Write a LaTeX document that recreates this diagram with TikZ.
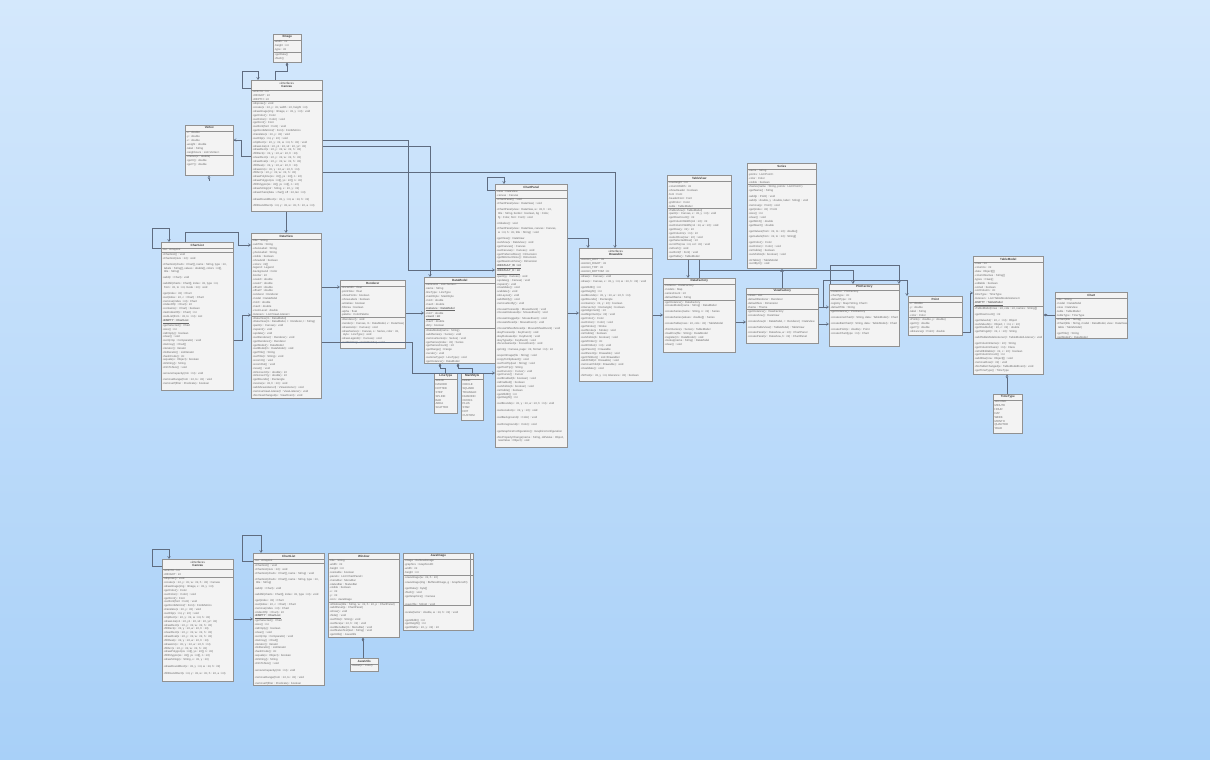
\documentclass[tikz,border=0pt]{standalone}
\usepackage{fontspec}
\setmainfont{Liberation Sans}
\usetikzlibrary{arrows.meta,shadows,calc}
\definecolor{bgtop}{RGB}{212,232,252}
\definecolor{bgbot}{RGB}{168,208,248}
\definecolor{boxfill}{RGB}{243,243,243}
\definecolor{boxline}{RGB}{145,145,145}
\definecolor{txtc}{RGB}{105,105,105}
\definecolor{ttlc}{RGB}{60,60,60}
\definecolor{linec}{RGB}{95,108,128}
\tikzset{
 cls/.style={draw=boxline, fill=boxfill, line width=0.6pt, inner sep=0pt, anchor=north west,
   drop shadow={shadow xshift=0.9pt, shadow yshift=-0.9pt, opacity=0.3}},
 ttl/.style={font=\fontsize{3}{3.5}\selectfont\bfseries, inner sep=0.8pt, align=center, text=ttlc},
 txt/.style={font=\fontsize{2.8}{3.85}\selectfont, inner xsep=1.3pt, inner ysep=0.8pt, align=left, text=txtc},
 sep/.style={draw=boxline, line width=0.45pt},
 conn/.style={draw=linec, line width=0.55pt},
 arr/.style={-{Straight Barb[length=2.2pt,width=2.6pt]}},
 dia/.style={{Diamond[length=4pt,width=2.6pt,fill=linec]}-},
 odia/.style={{Diamond[length=4pt,width=2.6pt,open]}-},
 inh/.style={-{Triangle[open,length=3.2pt,width=3.2pt]}},
}
\newcommand\klass[7]{%
 \node[cls, minimum width=#3pt, minimum height=#4pt] (#1) at (#2) {};
 \node[ttl, minimum height=#5pt, anchor=north] (#1-t) at (#1.north) {#6};
 \draw[sep] (#1-t.south -| #1.west) -- (#1-t.south -| #1.east);
 \node[txt, anchor=north west] (#1-a) at (#1-t.south -| #1.west) {#7};
}
\newcommand\meth[2]{%
 \draw[sep] (#1-a.south -| #1.west) -- (#1-a.south -| #1.east);
 \node[txt, anchor=north west] (#1-m) at (#1-a.south -| #1.west) {#2};
}
\begin{document}
\begin{tikzpicture}[x=1pt,y=-1pt]
\shade[top color=bgtop, bottom color=bgbot] (0,0) rectangle (1210,760);
\useasboundingbox (0,0) rectangle (1210,760);

% ---------------- IImage
\klass{iimage}{273,34}{28}{28}{5.5}{IImage}{-width : int\\-height : int\\-type : int}
\meth{iimage}{+getData()\\+flush()}

% ---------------- Canvas
\klass{canvas}{251,80}{71}{131}{9.5}{\textmd{«interface»}\\Canvas}{+WIDTH : int\\+HEIGHT : int\\+DEPTH : int}
\meth{canvas}{+dispose() : void\\
+create(x : int, y : int, width : int, height : int)\\
+drawImage(img : IImage, x : int, y : int) : void\\
+getColor() : Color\\
+setColor(c : Color) : void\\
+getFont() : Font\\
+setFont(font : Font) : void\\
+getFontMetrics(f : Font) : FontMetrics\\
+translate(x : int, y : int) : void\\
+setClip(x : int, y : int) : void\\
+clipRect(x : int, y : int, w : int, h : int) : void\\
+drawLine(x1 : int, y1 : int, x2 : int, y2 : int)\\
+drawRect(x : int, y : int, w : int, h : int)\\
+fillRect(x : int, y : int, w : int, h : int)\\
+clearRect(x : int, y : int, w : int, h : int)\\
+drawOval(x : int, y : int, w : int, h : int)\\
+fillOval(x : int, y : int, w : int, h : int)\\
+drawArc(x : int, y : int, w : int, h : int)\\
+fillArc(x : int, y : int, w : int, h : int)\\
+drawPolyline(xs : int[], ys : int[], n : int)\\
+drawPolygon(xs : int[], ys : int[], n : int)\\
+fillPolygon(xs : int[], ys : int[], n : int)\\
+drawString(str : String, x : int, y : int)\\
+drawChars(data : char[], off : int, len : int)\\[3pt]
+drawRoundRect(x : int, y : int, w : int, h : int)\\[3pt]
+fillRoundRect(x : int, y : int, w : int, h : int, a : int)}

% ---------------- Vertex
\klass{vertex}{185,125}{48}{50}{5.5}{Vertex}{-x : double\\-y : double\\-z : double\\-weight : double\\-label : String\\-neighbours : List<Vertex>}
\meth{vertex}{+Vertex(x : double)\\+getX() : double\\+getY() : double}

% ---------------- ChartList
\klass{chartlist}{161,242}{72}{148}{5.5}{ChartList}{-list : ArrayList}
\meth{chartlist}{+ChartList() : void\\
+ChartList(size : int) : void\\[2pt]
+ChartList(charts : Chart[], name : String, type : int,\\
\ \ labels : String[], values : double[], colors : int[],\\
\ \ title : String)\\[2pt]
+add(c : Chart) : void\\[2pt]
+addAll(charts : Chart[], index : int, type : int,\\
\ \ from : int, to : int, mode : int) : void\\[2pt]
+get(index : int) : Chart\\
+set(index : int, c : Chart) : Chart\\
+remove(index : int) : Chart\\
+indexOf(c : Chart) : int\\
+contains(c : Chart) : boolean\\
+lastIndexOf(c : Chart) : int\\
+subList(from : int, to : int) : List\\
\textbf{\underline{+EMPTY : ChartList}}\\
+getSelected() : Chart\\
+size() : int\\
+isEmpty() : boolean\\
+clear() : void\\
+sort(cmp : Comparator) : void\\
+toArray() : Chart[]\\
+iterator() : Iterator\\
+listIterator() : ListIterator\\
+hashCode() : int\\
+equals(o : Object) : boolean\\
+toString() : String\\
+trimToSize() : void\\[2pt]
+ensureCapacity(min : int) : void\\[2pt]
+removeRange(from : int, to : int) : void\\
+removeIf(filter : Predicate) : boolean}

% ---------------- DataView
\klass{dataview}{251,233}{70}{165}{5.5}{DataView}{-title : String\\-subTitle : String\\-xAxisLabel : String\\-yAxisLabel : String\\-visible : boolean\\-showGrid : boolean\\-colors : int[]\\-legend : Legend\\-background : Color\\-border : int\\-scaleX : double\\-scaleY : double\\-offsetX : double\\-offsetY : double\\-renderer : Renderer\\-model : DataModel\\-minX : double\\-maxX : double\\-zoomLevel : double\\-listeners : List<ViewListener>}
\meth{dataview}{+DataView(m : DataModel)\\
+DataView(m : DataModel, r : Renderer, t : String)\\
+paint(c : Canvas) : void\\
+repaint() : void\\
+update() : void\\
+setRenderer(r : Renderer) : void\\
+getRenderer() : Renderer\\
+getModel() : DataModel\\
+setModel(m : DataModel) : void\\
+getTitle() : String\\
+setTitle(t : String) : void\\
+zoomIn() : void\\
+zoomOut() : void\\
+reset() : void\\
+toScreenX(x : double) : int\\
+toScreenY(y : double) : int\\
+getBounds() : Rectangle\\
+resize(w : int, h : int) : void\\
+addViewListener(l : ViewListener) : void\\
+removeViewListener(l : ViewListener) : void\\
+fireViewChanged(e : ViewEvent) : void}

% ---------------- Renderer
\klass{renderer}{340,280}{65}{68}{5.5}{Renderer}{-lineWidth : float\\-pointSize : float\\-showPoints : boolean\\-showLabels : boolean\\-antialias : boolean\\-fillArea : boolean\\-alpha : float\\-palette : ColorPalette}
\meth{renderer}{+Renderer() : void\\
+render(c : Canvas, m : DataModel, v : DataView)\\
+drawAxis(c : Canvas) : void\\
+drawSeries(c : Canvas, s : Series, color : int,\\
\ \ style : LineType) : void\\
+drawLegend(c : Canvas) : void\\
+setPalette(p : ColorPalette) : void}

% ---------------- ChartModel
\klass{chartmodel}{424,277}{71}{86}{5.5}{DataModel}{-seriesList : List<Series>\\-name : String\\-lineType : LineType\\-markStyle : MarkStyle\\-minX : double\\-maxX : double\\\textbf{\underline{-instance : DataModel}}\\-minY : double\\\textbf{\underline{-count : int}}\\-maxY : double\\-dirty : boolean}
\meth{chartmodel}{+DataModel(name : String)\\
+addSeries(s : Series) : void\\
+removeSeries(s : Series) : void\\
+getSeries(index : int) : Series\\
+getSeriesCount() : int\\
+getRange() : Range\\
+recalc() : void\\
+setLineType(t : LineType) : void\\
+getInstance() : DataModel}

% ---------------- enums
\klass{linetype}{434,373}{23}{40}{5.5}{LineType}{SOLID\\DASHED\\DOTTED\\STEP\\SPLINE\\BAR\\AREA\\SCATTER}
\klass{markstyle}{461,373}{22}{47}{5.5}{MarkStyle}{NONE\\CIRCLE\\SQUARE\\TRIANGLE\\DIAMOND\\CROSS\\PLUS\\STAR\\DOT\\CUSTOM}

% ---------------- ChartPanel
\klass{chartpanel}{495,184}{72}{263}{5.5}{ChartPanel}{-view : DataView\\-canvas : Canvas}
\meth{chartpanel}{+ChartPanel() : void\\
+ChartPanel(view : DataView) : void\\[2pt]
+ChartPanel(view : DataView, w : int, h : int,\\
\ \ title : String, border : boolean, bg : Color,\\
\ \ fg : Color, font : Font) : void\\[2pt]
+initialize() : void\\[2pt]
+ChartPanel(view : DataView, canvas : Canvas,\\
\ \ w : int, h : int, title : String) : void\\[2pt]
+getView() : DataView\\
+setView(v : DataView) : void\\
+getCanvas() : Canvas\\
+setCanvas(c : Canvas) : void\\
+getPreferredSize() : Dimension\\
+getMinimumSize() : Dimension\\
+getMaximumSize() : Dimension\\
\textbf{\underline{+DEFAULT\_W : int}}\\
\textbf{\underline{+DEFAULT\_H : int}}\\
+paint(g : Canvas) : void\\
+update(g : Canvas) : void\\
+repaint() : void\\
+invalidate() : void\\
+validate() : void\\
+doLayout() : void\\
+addNotify() : void\\
+removeNotify() : void\\[2pt]
+mousePressed(e : MouseEvent) : void\\
+mouseReleased(e : MouseEvent) : void\\[2pt]
+mouseDragged(e : MouseEvent) : void\\
+mouseMoved(e : MouseEvent) : void\\[2pt]
+mouseWheelMoved(e : MouseWheelEvent) : void\\
+keyPressed(e : KeyEvent) : void\\
+keyReleased(e : KeyEvent) : void\\
+keyTyped(e : KeyEvent) : void\\
+focusGained(e : FocusEvent) : void\\[2pt]
+print(g : Canvas, page : int, format : int) : int\\[2pt]
+exportImage(file : String) : void\\
+copyToClipboard() : void\\
+setToolTip(text : String) : void\\
+getToolTip() : String\\
+setCursor(c : Cursor) : void\\
+getCursor() : Cursor\\
+setEnabled(b : boolean) : void\\
+isEnabled() : boolean\\
+setVisible(b : boolean) : void\\
+isVisible() : boolean\\
+getWidth() : int\\
+getHeight() : int\\[2pt]
+setBounds(x : int, y : int, w : int, h : int) : void\\[3pt]
+setLocation(x : int, y : int) : void\\[3pt]
+setBackground(c : Color) : void\\[3pt]
+setForeground(c : Color) : void\\[3pt]
+getGraphicsConfiguration() : GraphicsConfiguration\\[2pt]
+firePropertyChange(name : String, oldValue : Object,\\
\ \ newValue : Object) : void}

% ---------------- Canvas2
\klass{canvasb}{579,248}{73}{133}{9.5}{\textmd{«interface»}\\Drawable}{+ALIGN\_LEFT : int\\+ALIGN\_RIGHT : int\\+ALIGN\_TOP : int\\+ALIGN\_BOTTOM : int}
\meth{canvasb}{+draw(c : Canvas) : void\\[2pt]
+draw(c : Canvas, x : int, y : int, w : int, h : int) : void\\[2pt]
+getWidth() : int\\
+getHeight() : int\\
+setBounds(x : int, y : int, w : int, h : int)\\
+getBounds() : Rectangle\\
+contains(x : int, y : int) : boolean\\
+intersects(r : Rectangle) : boolean\\
+getAlignment() : int\\
+setAlignment(a : int) : void\\
+getColor() : Color\\
+setColor(c : Color) : void\\
+getStroke() : Stroke\\
+setStroke(s : Stroke) : void\\
+isVisible() : boolean\\
+setVisible(b : boolean) : void\\
+getZOrder() : int\\
+setZOrder(z : int) : void\\
+getParent() : Drawable\\
+setParent(p : Drawable) : void\\
+getChildren() : List<Drawable>\\
+addChild(d : Drawable) : void\\
+removeChild(d : Drawable) : void\\
+invalidate() : void\\[3pt]
+hitTest(x : int, y : int, tolerance : int) : boolean}

% ---------------- TableView
\klass{tableview}{667,175}{64}{84}{5.5}{TableView}{-rowHeight : int\\-columnWidth : int\\-showHeader : boolean\\-font : Font\\-headerFont : Font\\-gridColor : Color\\-table : TableModel}
\meth{tableview}{+TableView(t : TableModel)\\
+paint(c : Canvas, x : int, y : int) : void\\
+getRowCount() : int\\
+getColumnWidth(col : int) : int\\
+setColumnWidth(col : int, w : int) : void\\
+getRow(y : int) : int\\
+getColumn(x : int) : int\\
+selectRow(row : int) : void\\
+getSelectedRow() : int\\
+scrollTo(row : int, col : int) : void\\
+refresh() : void\\
+setFont(f : Font) : void\\
+getTable() : TableModel}

% ---------------- Series
\klass{series}{747,163}{69}{105}{5.5}{Series}{-name : String\\-points : List<Point>\\-color : Color\\-visible : boolean}
\meth{series}{+Series(name : String, points : List<Point>)\\
+getName() : String\\[2pt]
+add(p : Point) : void\\
+add(x : double, y : double, label : String) : void\\[2pt]
+remove(p : Point) : void\\
+get(index : int) : Point\\
+size() : int\\
+clear() : void\\
+getMinX() : double\\
+getMaxX() : double\\[2pt]
+getValues(from : int, to : int) : double[]\\[2pt]
+getLabels(from : int, to : int) : String[]\\[2pt]
+getColor() : Color\\
+setColor(c : Color) : void\\
+isVisible() : boolean\\
+setVisible(b : boolean) : void\\[2pt]
+toTable() : TableModel\\
+sortByX() : void}

% ---------------- DataFactory
\klass{datafactory}{663,278}{72}{74}{5.5}{DataFactory}{-instance : DataFactory\\-models : Map\\-seriesCount : int\\-defaultName : String}
\meth{datafactory}{+getInstance() : DataFactory\\
+createModel(name : String) : DataModel\\[2pt]
+createSeries(name : String, n : int) : Series\\[2pt]
+createSeries(values : double[]) : Series\\[2pt]
+createTable(rows : int, cols : int) : TableModel\\[2pt]
+fromSeries(s : Series) : TableModel\\
+loadCsv(file : String) : DataModel\\
+register(m : DataModel) : void\\
+lookup(name : String) : DataModel\\
+clear() : void}

% ---------------- ViewFactory
\klass{viewfactory}{746,288}{72}{55}{5.5}{ViewFactory}{-views : List\\-defaultRenderer : Renderer\\-defaultSize : Dimension\\-theme : Theme}
\meth{viewfactory}{+getInstance() : ViewFactory\\
+createView() : DataView\\[2pt]
+createView(m : DataModel, r : Renderer) : DataView\\[2pt]
+createTableView(t : TableModel) : TableView\\[2pt]
+createPanel(v : DataView, w : int) : ChartPanel\\
+createPanel(v : DataView, h : int) : ChartPanel}

% ---------------- PlotFactory
\klass{plotfactory}{829,284}{70}{62}{5.5}{PlotFactory}{-instance : PlotFactory\\-chartType : int\\-defaultType : int\\-registry : Map<String, Chart>\\-defaultTitle : String}
\meth{plotfactory}{+getInstance() : PlotFactory\\[2pt]
+createLineChart(t : String, data : TableModel) : Chart\\[2pt]
+createBarChart(t : String, data : TableModel) : Chart\\[2pt]
+createPoint(x : double) : Point\\
+createChart(type : int) : Chart}

% ---------------- Point
\klass{point}{908,296}{54}{39}{5.5}{Point}{-x : double\\-y : double\\-label : String\\-color : Color}
\meth{point}{+Point(x : double, y : double)\\+getX() : double\\+getY() : double\\+distance(p : Point) : double}

% ---------------- TableModel
\klass{tablemodel}{973,256}{70}{118}{5.5}{TableModel}{-rows : int\\-columns : int\\-data : Object[][]\\-columnNames : String[]\\-types : Class[]\\-editable : boolean\\-sorted : boolean\\-sortColumn : int\\-timeType : TimeType\\-listeners : List<TableModelListener>\\\textbf{\underline{-EMPTY : TableModel}}}
\meth{tablemodel}{+TableModel(rows : int, cols : int, names : String[])\\[2pt]
+getRowCount() : int\\[2pt]
+getValueAt(r : int, c : int) : Object\\
+setValueAt(v : Object, r : int, c : int)\\
+getDoubleAt(r : int, c : int) : double\\
+getStringAt(r : int, c : int) : String\\[2pt]
+addTableModelListener(l : TableModelListener) : void\\[2pt]
+getColumnName(c : int) : String\\
+getColumnClass(c : int) : Class\\
+isCellEditable(r : int, c : int) : boolean\\
+getColumnCount() : int\\
+addRow(row : Object[]) : void\\
+removeRow(r : int) : void\\
+fireTableChanged(e : TableModelEvent) : void\\
+getTimeType() : TimeType}

% ---------------- Chart
\klass{chart}{1055,292}{72}{46}{5.5}{Chart}{-title : String\\-model : DataModel\\-view : DataView\\-table : TableModel\\-tableType : TimeType}
\meth{chart}{+Chart(title : String)\\
+Chart(title : String, model : DataModel, view : DataView,\\
\ \ table : TableModel)\\[2pt]
+getTitle() : String\\
+getModel() : DataModel}

% ---------------- TimeType
\klass{timetype}{993,394}{29}{39}{5.5}{TimeType}{SECOND\\MINUTE\\HOUR\\DAY\\WEEK\\MONTH\\QUARTER\\YEAR}

% ---------------- bottom: Canvas3
\klass{canvasc}{162,559}{71}{122}{9.5}{\textmd{«interface»}\\Canvas}{+WIDTH : int\\+HEIGHT : int}
\meth{canvasc}{+dispose() : void\\
+create(x : int, y : int, w : int, h : int) : Canvas\\
+drawImage(img : IImage, x : int, y : int)\\
+getColor() : Color\\
+setColor(c : Color) : void\\
+getFont() : Font\\
+setFont(font : Font) : void\\
+getFontMetrics(f : Font) : FontMetrics\\
+translate(x : int, y : int) : void\\
+setClip(x : int, y : int) : void\\
+clipRect(x : int, y : int, w : int, h : int)\\
+drawLine(x1 : int, y1 : int, x2 : int, y2 : int)\\
+drawRect(x : int, y : int, w : int, h : int)\\
+fillRect(x : int, y : int, w : int, h : int)\\
+clearRect(x : int, y : int, w : int, h : int)\\
+drawOval(x : int, y : int, w : int, h : int)\\
+fillOval(x : int, y : int, w : int, h : int)\\
+drawArc(x : int, y : int, w : int, h : int)\\
+fillArc(x : int, y : int, w : int, h : int)\\
+drawPolygon(xs : int[], ys : int[], n : int)\\
+fillPolygon(xs : int[], ys : int[], n : int)\\
+drawString(s : String, x : int, y : int)\\[3pt]
+drawRoundRect(x : int, y : int, w : int, h : int)\\[3pt]
+fillRoundRect(x : int, y : int, w : int, h : int, a : int)}

% ---------------- bottom: ChartList2
\klass{chartlistb}{253,553}{71}{132}{5.5}{ChartList}{-list : ArrayList}
\meth{chartlistb}{+ChartList() : void\\
+ChartList(size : int) : void\\
+ChartList(charts : Chart[], name : String) : void\\[2pt]
+ChartList(charts : Chart[], name : String, type : int,\\
\ \ title : String)\\[2pt]
+add(c : Chart) : void\\[2pt]
+addAll(charts : Chart[], index : int, type : int) : void\\[2pt]
+get(index : int) : Chart\\
+set(index : int, c : Chart) : Chart\\
+remove(index : int) : Chart\\
+indexOf(c : Chart) : int\\
\textbf{\underline{+EMPTY : ChartList}}\\
+getSelected() : Chart\\
+size() : int\\
+isEmpty() : boolean\\
+clear() : void\\
+sort(cmp : Comparator) : void\\
+toArray() : Chart[]\\
+iterator() : Iterator\\
+listIterator() : ListIterator\\
+hashCode() : int\\
+equals(o : Object) : boolean\\
+toString() : String\\
+trimToSize() : void\\[3pt]
+ensureCapacity(min : int) : void\\[3pt]
+removeRange(from : int, to : int) : void\\[3pt]
+removeIf(filter : Predicate) : boolean}

% ---------------- Window
\klass{window}{328,553}{71}{84}{5.5}{Window}{-title : String\\-width : int\\-height : int\\-resizable : boolean\\-panels : List<ChartPanel>\\-menuBar : MenuBar\\-statusBar : StatusBar\\-visible : boolean\\-x : int\\-y : int\\-icon : JavaImage}
\meth{window}{+Window(title : String, w : int, h : int, p : ChartPanel)\\
+addPanel(p : ChartPanel)\\
+show() : void\\
+hide() : void\\
+setTitle(t : String) : void\\
+setSize(w : int, h : int) : void\\
+setMenuBar(m : MenuBar) : void\\
+setStatusText(text : String) : void\\
+getUtils() : JavaUtils}

% ---------------- JavaImage
\klass{javaimage}{403,553}{70}{77}{5.5}{JavaImage}{-image : BufferedImage\\-graphics : Graphics2D\\-width : int\\-height : int}
\meth{javaimage}{+JavaImage(w : int, h : int)\\[2pt]
+JavaImage(img : BufferedImage, g : Graphics2D)\\[2pt]
+getData() : byte[]\\
+flush() : void\\
+getGraphics() : Canvas\\[4pt]
+save(file : String) : void\\[4pt]
+scale(factor : double, w : int, h : int) : void\\[4pt]
+getWidth() : int\\
+getHeight() : int\\
+getRGB(x : int, y : int) : int}
\draw[sep] (javaimage.north east) ++(-3,0) -- ++(0,52) -- ($(javaimage.north west)+(0,52)$);

% ---------------- JavaUtils
\klass{javautils}{350,658}{28}{13}{5.5}{JavaUtils}{+toAwt(c : Color)}

% ================= connectors
\draw[conn,dia] (287,0 |- iimage.south) -- (287,71) -| (275,0 |- canvas.north);
\draw[conn,arr] (canvas.west |- 0,88) -| (242,71) -| (258,0 |- canvas.north);
\draw[conn,arr] (canvas.west |- 0,156) -| (241,140) -- (vertex.east |- 0,140);
\draw[conn,odia] (209,0 |- vertex.south) -- (209,181);
\draw[conn,arr] (canvas.south -| 286,0) -- (dataview.north -| 286,0);
\draw[conn,arr] (canvas.east |- 0,140) -| (408,270) -- (chartpanel.west |- 0,270);
\draw[conn,arr] (canvas.east |- 0,146) -| (430,0 |- chartmodel.north);
\draw[conn,arr] (canvas.east |- 0,172) -| (615,0 |- canvasb.north);
\draw[conn,arr] (chartlist.east |- 0,340) -| (242,315) -- (dataview.west |- 0,315);
\draw[conn,arr] (chartlist.west |- 0,248) -| (152,228) -| (169,0 |- chartlist.north);
\draw[conn,arr] (chartlist.north -| 185,0) |- (238,232) |- (dataview.west |- 0,245);
\draw[conn,arr] (dataview.east |- 0,287) -- (renderer.west |- 0,287);
\draw[conn,arr] (dataview.east |- 0,342) -| (412,373) -- (chartpanel.west |- 0,373);
\draw[conn,arr] (renderer.east |- 0,313) -- (chartmodel.west |- 0,313);
\draw[conn,dia] (440,0 |- chartmodel.south) |- (445,368) -- (445,0 |- linetype.north);
\draw[conn,dia] (458,0 |- chartmodel.south) |- (472,368) -- (472,0 |- markstyle.north);
\draw[conn,arr] (chartpanel.west |- 0,190) -| (487,177) -| (504,0 |- chartpanel.north);
\draw[conn,arr] (chartpanel.east |- 0,238) -| (588,0 |- canvasb.north);
\draw[conn,arr] (chartpanel.east |- 0,313) -- (canvasb.west |- 0,313);
\draw[conn,arr] (canvasb.east |- 0,315) -- (datafactory.west |- 0,315);
\draw[conn,arr] (688,0 |- tableview.south) -- (688,0 |- datafactory.north);
\draw[conn,arr] (699,0 |- datafactory.north) |- (853,270) -- (853,0 |- plotfactory.north);
\draw[conn] (699,0 |- tableview.south) -- (699,270);
\draw[conn,arr] (datafactory.east |- 0,322) -- (viewfactory.west |- 0,322);
\draw[conn,inh] (782,0 |- viewfactory.north) -- (782,0 |- series.south);
\draw[conn,arr] (viewfactory.east |- 0,307) -- (plotfactory.west |- 0,307);
\draw[conn,arr] (viewfactory.east |- 0,324) -- (plotfactory.west |- 0,324);
\draw[conn,arr] (830,0 |- plotfactory.north) |- (899,265) -- (899,0 |- plotfactory.north);
\draw[conn,arr] (823,308) |- (907,280) -- (907,0 |- point.north);
\draw[conn,arr] (point.east |- 0,332) -| (970,293) -- (tablemodel.west |- 0,293);
\draw[conn,dia] (tablemodel.east |- 0,315) -- (chart.west |- 0,315);
\draw[conn,odia] (1007,0 |- tablemodel.south) -- (1007,0 |- timetype.north);
% bottom
\draw[conn,arr] (canvasc.west |- 0,566) -| (152,549) -| (169,0 |- canvasc.north);
\draw[conn,arr] (chartlistb.west |- 0,561) -| (242,535) -| (261,0 |- chartlistb.north);
\draw[conn,arr] (canvasc.east |- 0,619) -- (chartlistb.west |- 0,619);
\draw[conn,dia] (363,0 |- window.south) -- (363,0 |- javautils.north);
\end{tikzpicture}
\end{document}
